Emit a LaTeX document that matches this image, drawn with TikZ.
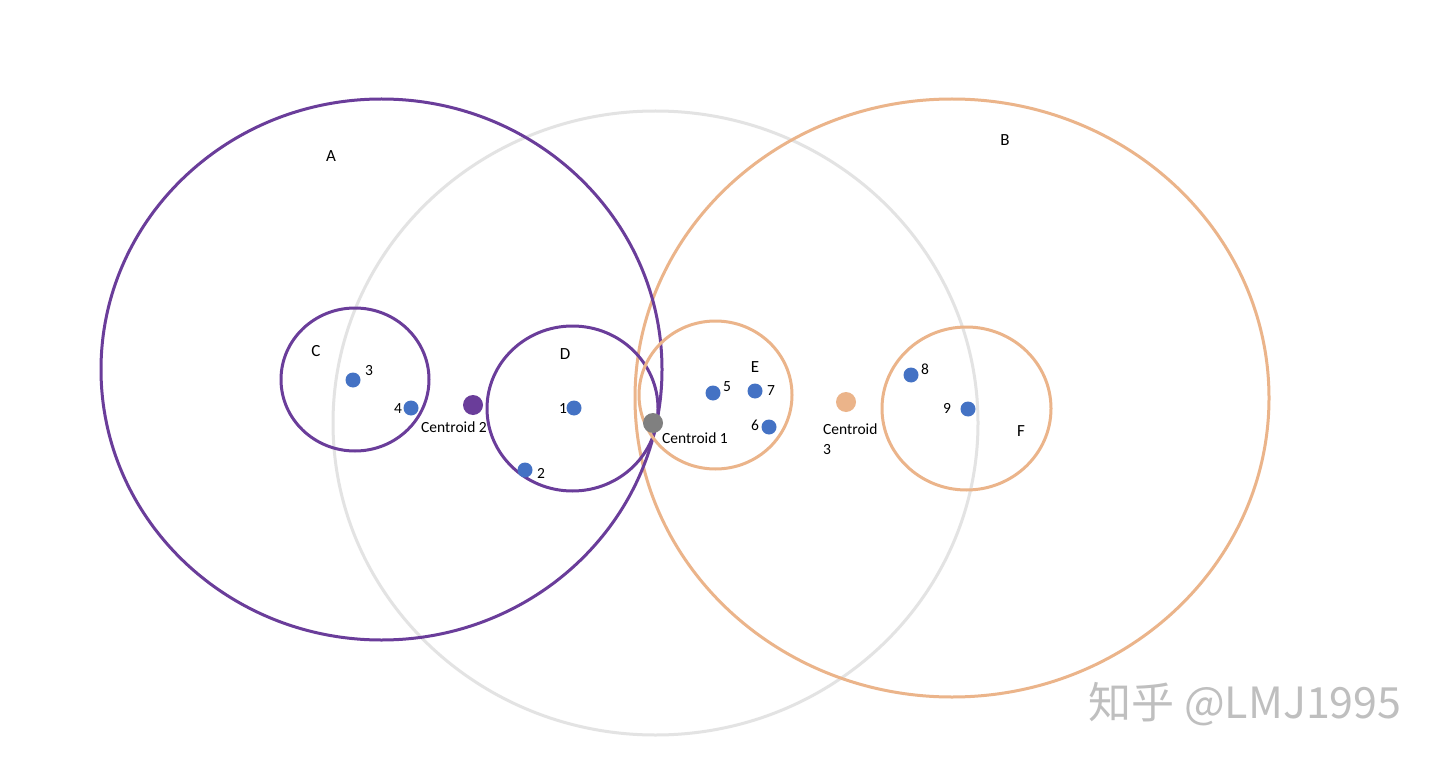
\documentclass[tikz,border=0pt]{standalone}
\usepackage{fontspec}
\setmainfont{Carlito}
\newfontfamily\cjk{Noto Sans CJK SC}
\definecolor{cpurple}{HTML}{6A3D9A}
\definecolor{corange}{HTML}{EBB48A}
\definecolor{cgray}{HTML}{E3E3E3}
\definecolor{cblue}{HTML}{4472C4}
\definecolor{cgrey}{HTML}{808080}
\begin{document}
\begin{tikzpicture}[x=1pt,y=-1pt,
  ring/.style={line width=3pt},
  pt/.style={circle,fill=cblue,inner sep=0pt,minimum size=15pt},
  cen/.style={circle,inner sep=0pt,minimum size=20pt},
  lbl/.style={font=\fontsize{15.5}{17}\selectfont,inner sep=0pt},
  big/.style={font=\fontsize{17}{19}\selectfont,inner sep=0pt}]
\useasboundingbox[fill=white] (0,0) rectangle (1440,762);
% big circles
\draw[ring,cgray] (655.5,423) ellipse [x radius=322.5,y radius=312];
\draw[ring,corange] (952,398) ellipse [x radius=317,y radius=299];
\draw[ring,cpurple] (381.5,369.5) ellipse [x radius=280.5,y radius=270.5];
% small circles
\draw[ring,cpurple] (355,379.5) ellipse [x radius=74,y radius=71.5];
\draw[ring,cpurple] (572.5,408.5) ellipse [x radius=85.5,y radius=82.5];
\draw[ring,corange] (715.5,395) ellipse [x radius=76.5,y radius=74];
\draw[ring,corange] (966.5,408.5) ellipse [x radius=84.5,y radius=81.5];
% circle labels
\node[big] (lA) at (331,156) {A};
\node[big] (lB) at (1005,140) {B};
\node[big] (lC) at (316,351) {C};
\node[big] (lD) at (565,354) {D};
\node[big] (lE) at (755,367) {E};
\node[big] (lF) at (1021,431) {F};
% points
\node[pt] (p3) at (353,380) {};
\node[lbl] (t3) at (369,371) {3};
\node[pt] (p4) at (411,408) {};
\node[lbl] (t4) at (398,409) {4};
\node[pt] (p1) at (574,408) {};
\node[lbl] (t1) at (563,409) {1};
\node[pt] (p2) at (525,470) {};
\node[lbl] (t2) at (541,473) {2};
\node[pt] (p5) at (713,393) {};
\node[lbl] (t5) at (727,387) {5};
\node[pt] (p7) at (755,391) {};
\node[lbl] (t7) at (771,391) {7};
\node[pt] (p6) at (769,427) {};
\node[lbl] (t6) at (755,425) {6};
\node[pt] (p8) at (911,375) {};
\node[lbl] (t8) at (925,369) {8};
\node[pt] (p9) at (968,409) {};
\node[lbl] (t9) at (947,408) {9};
% centroids
\node[cen,fill=cpurple] (c2) at (473,405) {};
\node[lbl] (tc2) at (454,427) {Centroid 2};
\node[cen,fill=cgrey] (c1) at (653,423) {};
\node[lbl] (tc1) at (695,438) {Centroid 1};
\node[cen,fill=corange] (c3) at (846,402) {};
\node[lbl,align=left,anchor=north west,font=\fontsize{15.5}{20}\selectfont] (tc3) at (823,424) {Centroid\\3};
% watermark
\node[inner sep=0pt,text=black!25,font=\cjk\fontsize{43}{45}\selectfont] (wm) at (1245,704) {知乎 @LMJ1995};
\end{tikzpicture}
\end{document}
